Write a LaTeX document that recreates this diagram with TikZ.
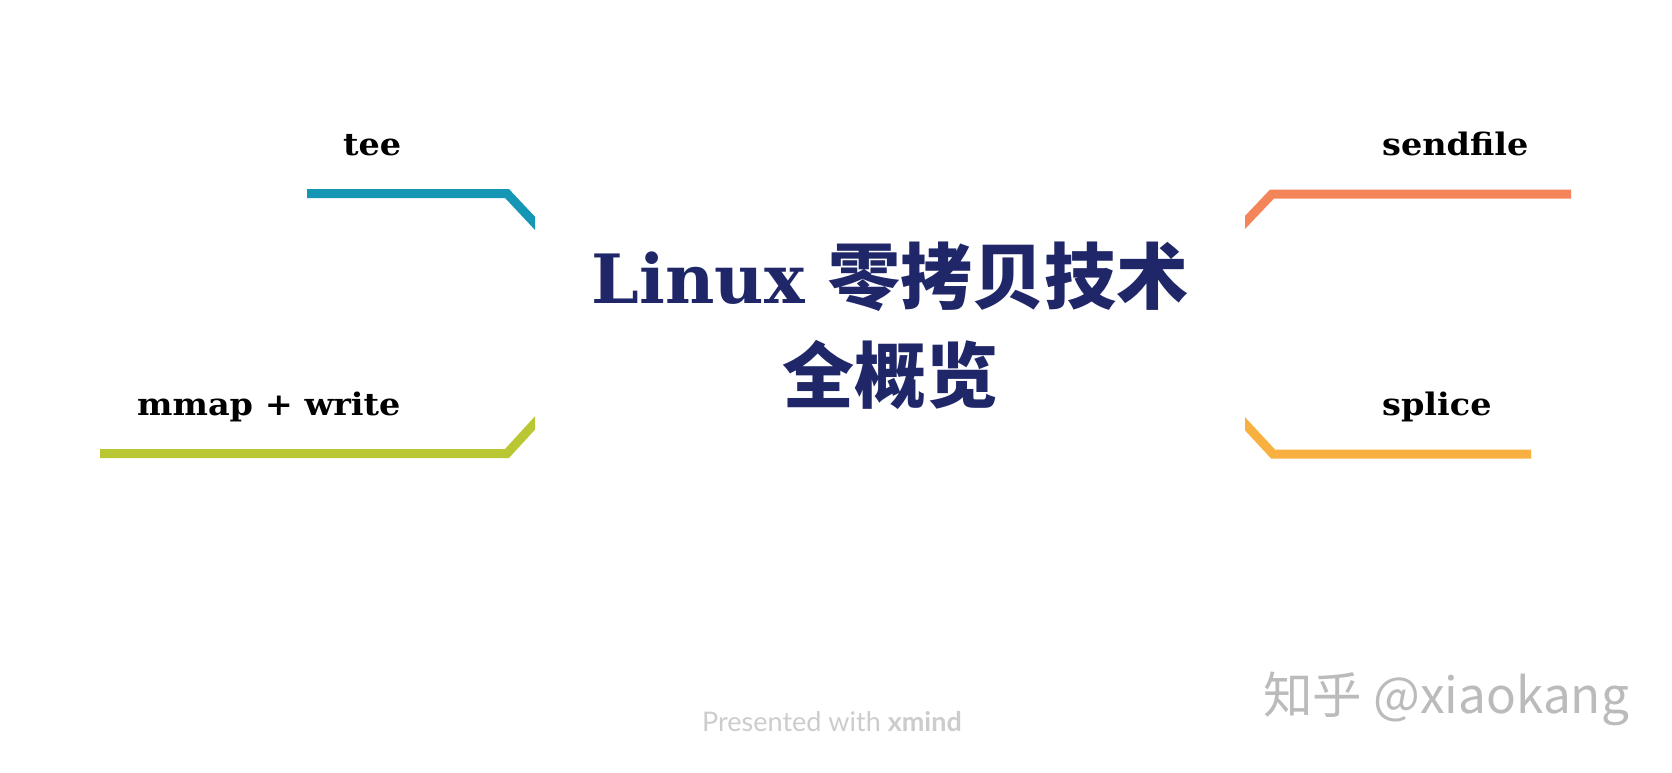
\documentclass[tikz,border=0pt]{standalone}
\usepackage{fontspec}
\usepackage{tikz}
\setmainfont{DejaVu Serif}
\newfontfamily\slab{DejaVu Serif}[FakeStretch=1.08]
\newfontfamily\cjk{Noto Sans CJK SC}
\newfontfamily\markfont{Lato}
\definecolor{rootblue}{RGB}{32,39,104}
\definecolor{teeteal}{RGB}{20,150,180}
\definecolor{mmapgreen}{RGB}{185,200,50}
\definecolor{sendcoral}{RGB}{244,132,90}
\definecolor{spliceorange}{RGB}{248,176,64}
\tikzset{
  branchlabel/.style={anchor=base west, inner sep=0pt, font=\slab\bfseries\fontsize{31}{31}\selectfont},
  branchline/.style={line width=9pt, line join=miter},
}
\begin{document}
\begin{tikzpicture}[x=1pt,y=1pt,yscale=-1,xscale=1]
\useasboundingbox (0,0) rectangle (1672,772);

% Text Node
\node (root) [anchor=base, align=center, inner sep=0pt, text=rootblue,
  font=\bfseries\fontsize{68}{99}\selectfont] at (890,402)
  {Linux {\cjk\fontsize{72}{99}\selectfont 零拷贝技术}\\{\cjk\fontsize{72}{99}\selectfont 全概览}};

% Text Node
\node (tee) [branchlabel] at (343,155) {tee};
\node (mmap) [branchlabel] at (137,415) {mmap + write};
\node (sendfile) [branchlabel] at (1382,155) {sendfile};
\node (splice) [branchlabel] at (1382,415) {splice};

%Straight Lines
\coordinate (teeA) at (545,234);
\coordinate (teeB) at (507,193.5);
\coordinate (teeC) at (307,193.5);
\coordinate (mmapA) at (545,412);
\coordinate (mmapB) at (507,453.5);
\coordinate (mmapC) at (100,453.5);
\coordinate (sendA) at (1235,233);
\coordinate (sendB) at (1272,194);
\coordinate (sendC) at (1571,194);
\coordinate (splA) at (1235,413);
\coordinate (splB) at (1273,454);
\coordinate (splC) at (1531,454);

\begin{scope}
\clip (0,0) rectangle (535,772);
\draw [branchline, teeteal] (teeA) -- (teeB) -- (teeC);
\draw [branchline, mmapgreen] (mmapA) -- (mmapB) -- (mmapC);
\end{scope}
\begin{scope}
\clip (1245,0) rectangle (1672,772);
\draw [branchline, sendcoral] (sendA) -- (sendB) -- (sendC);
\draw [branchline, spliceorange] (splA) -- (splB) -- (splC);
\end{scope}

% Text Node
\node (credit) [anchor=base west, inner sep=0pt, text={rgb,255:red,204;green,204;blue,204},
  font=\markfont\fontsize{27}{27}\selectfont] at (702,731) {Presented with \textbf{xmind}};
% Text Node
\node (watermark) [anchor=base west, inner sep=0pt, text={rgb,255:red,187;green,187;blue,187},
  font=\cjk\fontsize{49.5}{49.5}\selectfont] at (1263,713) {知乎 @xiaokang};

\end{tikzpicture}
\end{document}
